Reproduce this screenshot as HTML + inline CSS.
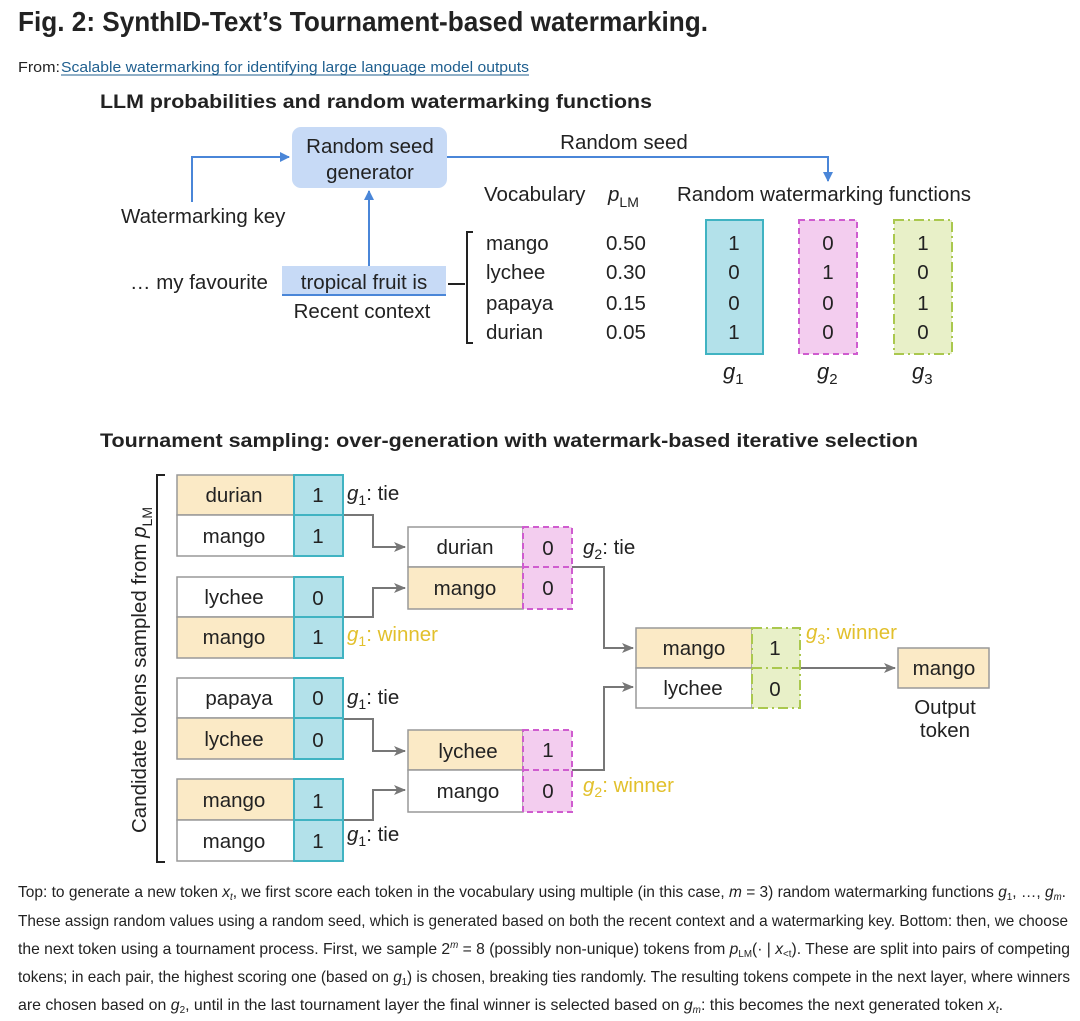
<!DOCTYPE html>
<html><head><meta charset="utf-8"><style>
html,body{margin:0;padding:0;background:#fff}
svg{display:block}
text{font-family:"Liberation Sans",sans-serif;fill:#222}
.s{font-size:20.5px}
.y{fill:#e2c02c}
.c{font-family:"Liberation Sans",sans-serif;font-size:16px;fill:#222}
</style></head><body>
<svg width="1080" height="1021" viewBox="0 0 1080 1021" xmlns="http://www.w3.org/2000/svg">
<defs>
<marker id="ab" markerWidth="10" markerHeight="10" refX="9" refY="5" orient="auto" markerUnits="userSpaceOnUse"><path d="M0,0 L10,5 L0,10 Z" fill="#4a86d8"/></marker>
<marker id="ag" markerWidth="12" markerHeight="10" refX="11" refY="5" orient="auto" markerUnits="userSpaceOnUse"><path d="M0,0 L12,5 L0,10 L3,5 Z" fill="#777"/></marker>
</defs>
<!-- Header -->
<text x="18" y="31" font-size="28" font-weight="bold" textLength="690" lengthAdjust="spacingAndGlyphs" style="font-family:'Liberation Sans',sans-serif">Fig. 2: SynthID-Text’s Tournament-based watermarking.</text>
<text x="18" y="72" font-size="15" textLength="42" lengthAdjust="spacingAndGlyphs">From:</text>
<text x="61" y="72" font-size="15" textLength="468" lengthAdjust="spacingAndGlyphs" style="fill:#1f5f8f">Scalable watermarking for identifying large language model outputs</text>
<line x1="61" y1="75" x2="529" y2="75" stroke="#1f5f8f" stroke-width="1"/>
<text x="100" y="108" font-size="19" font-weight="bold" textLength="552" lengthAdjust="spacingAndGlyphs">LLM probabilities and random watermarking functions</text>

<!-- Top diagram -->
<rect x="292" y="127" width="155" height="61" rx="9" fill="#c7daf6"/>
<text class="s" x="370" y="153" text-anchor="middle">Random seed</text>
<text class="s" x="370" y="179" text-anchor="middle">generator</text>
<path d="M192,202 V157 H289" fill="none" stroke="#4a86d8" stroke-width="2" marker-end="url(#ab)"/>
<path d="M447,157 H828 V181" fill="none" stroke="#4a86d8" stroke-width="2" marker-end="url(#ab)"/>
<text class="s" x="624" y="149" text-anchor="middle">Random seed</text>
<text class="s" x="121" y="223">Watermarking key</text>
<path d="M369,267 V191" fill="none" stroke="#4a86d8" stroke-width="2" marker-end="url(#ab)"/>
<text class="s" x="130" y="289">… my favourite</text>
<rect x="282" y="266" width="164" height="29" fill="#c7daf6"/>
<line x1="282" y1="295" x2="446" y2="295" stroke="#4a86d8" stroke-width="2"/>
<text class="s" x="364" y="289" text-anchor="middle">tropical fruit is</text>
<text class="s" x="362" y="318" text-anchor="middle">Recent context</text>
<line x1="448" y1="284" x2="465" y2="284" stroke="#222" stroke-width="2"/>
<path d="M473,232 H467 V343 H473" fill="none" stroke="#222" stroke-width="2"/>
<text class="s" x="484" y="201">Vocabulary</text>
<text class="s" x="608" y="201" font-style="italic">p<tspan font-size="14" dy="6" font-style="normal">LM</tspan></text>
<text class="s" x="677" y="201">Random watermarking functions</text>
<text class="s" x="486" y="250">mango</text><text class="s" x="606" y="250">0.50</text>
<text class="s" x="486" y="279">lychee</text><text class="s" x="606" y="279">0.30</text>
<text class="s" x="486" y="310">papaya</text><text class="s" x="606" y="310">0.15</text>
<text class="s" x="486" y="339">durian</text><text class="s" x="606" y="339">0.05</text>
<rect x="706" y="220" width="57" height="134" fill="#b3e1ea" stroke="#40b3c2" stroke-width="2"/>
<rect x="799" y="220" width="58" height="134" fill="#f3cdef" stroke="#cf5ccf" stroke-width="2" stroke-dasharray="6,4"/>
<rect x="894" y="220" width="58" height="134" fill="#e8f0c8" stroke="#aac84e" stroke-width="2" stroke-dasharray="10,4,2,4"/>
<text class="s" x="734" y="250" text-anchor="middle">1</text><text class="s" x="734" y="279" text-anchor="middle">0</text><text class="s" x="734" y="310" text-anchor="middle">0</text><text class="s" x="734" y="339" text-anchor="middle">1</text>
<text class="s" x="828" y="250" text-anchor="middle">0</text><text class="s" x="828" y="279" text-anchor="middle">1</text><text class="s" x="828" y="310" text-anchor="middle">0</text><text class="s" x="828" y="339" text-anchor="middle">0</text>
<text class="s" x="923" y="250" text-anchor="middle">1</text><text class="s" x="923" y="279" text-anchor="middle">0</text><text class="s" x="923" y="310" text-anchor="middle">1</text><text class="s" x="923" y="339" text-anchor="middle">0</text>
<text x="723" y="379" font-size="22" font-style="italic">g<tspan font-size="15" dy="5" font-style="normal">1</tspan></text>
<text x="817" y="379" font-size="22" font-style="italic">g<tspan font-size="15" dy="5" font-style="normal">2</tspan></text>
<text x="912" y="379" font-size="22" font-style="italic">g<tspan font-size="15" dy="5" font-style="normal">3</tspan></text>

<text x="100" y="447" font-size="19" font-weight="bold" textLength="818" lengthAdjust="spacingAndGlyphs">Tournament sampling: over-generation with watermark-based iterative selection</text>

<!-- bracket & rotated label -->
<path d="M165,475 H157 V862 H165" fill="none" stroke="#222" stroke-width="2"/>
<text class="s" transform="translate(146,670) rotate(-90)" text-anchor="middle">Candidate tokens sampled from <tspan font-style="italic">p</tspan><tspan font-size="14" dy="6">LM</tspan></text>

<!-- connectors -->
<g fill="none" stroke="#777" stroke-width="2">
<path d="M343,515 H373 V547 H405" marker-end="url(#ag)"/>
<path d="M343,617 H373 V588 H405" marker-end="url(#ag)"/>
<path d="M343,719 H373 V751 H405" marker-end="url(#ag)"/>
<path d="M343,820 H373 V790 H405" marker-end="url(#ag)"/>
<path d="M572,567 H604 V648 H633" marker-end="url(#ag)"/>
<path d="M572,770 H604 V687 H633" marker-end="url(#ag)"/>
<path d="M800,668 H895" marker-end="url(#ag)"/>
</g>

<!-- level 1 boxes -->
<g stroke="#999" stroke-width="1.5">
<rect x="177" y="475" width="117" height="40" fill="#fbeac6"/><rect x="177" y="515" width="117" height="41" fill="#fff"/>
<rect x="177" y="577" width="117" height="40" fill="#fff"/><rect x="177" y="617" width="117" height="41" fill="#fbeac6"/>
<rect x="177" y="678" width="117" height="40" fill="#fff"/><rect x="177" y="718" width="117" height="41" fill="#fbeac6"/>
<rect x="177" y="779" width="117" height="41" fill="#fbeac6"/><rect x="177" y="820" width="117" height="41" fill="#fff"/>
</g>
<g stroke="#40b3c2" stroke-width="2" fill="#b3e1ea">
<rect x="294" y="475" width="49" height="81"/><line x1="294" y1="515" x2="343" y2="515"/>
<rect x="294" y="577" width="49" height="81"/><line x1="294" y1="617" x2="343" y2="617"/>
<rect x="294" y="678" width="49" height="81"/><line x1="294" y1="718" x2="343" y2="718"/>
<rect x="294" y="779" width="49" height="82"/><line x1="294" y1="820" x2="343" y2="820"/>
</g>
<text class="s" x="234" y="502" text-anchor="middle">durian</text><text class="s" x="318" y="502" text-anchor="middle">1</text>
<text class="s" x="234" y="543" text-anchor="middle">mango</text><text class="s" x="318" y="543" text-anchor="middle">1</text>
<text class="s" x="234" y="604" text-anchor="middle">lychee</text><text class="s" x="318" y="605" text-anchor="middle">0</text>
<text class="s" x="234" y="644" text-anchor="middle">mango</text><text class="s" x="318" y="644" text-anchor="middle">1</text>
<text class="s" x="239" y="705" text-anchor="middle">papaya</text><text class="s" x="318" y="705" text-anchor="middle">0</text>
<text class="s" x="234" y="746" text-anchor="middle">lychee</text><text class="s" x="318" y="747" text-anchor="middle">0</text>
<text class="s" x="234" y="807" text-anchor="middle">mango</text><text class="s" x="318" y="808" text-anchor="middle">1</text>
<text class="s" x="234" y="848" text-anchor="middle">mango</text><text class="s" x="318" y="848" text-anchor="middle">1</text>
<text class="s" x="347" y="500" font-style="italic">g<tspan font-size="14" dy="5" font-style="normal">1</tspan><tspan dy="-5" font-style="normal">: tie</tspan></text>
<text class="s y" x="347" y="641" font-style="italic">g<tspan font-size="14" dy="5" font-style="normal">1</tspan><tspan dy="-5" font-style="normal">: winner</tspan></text>
<text class="s" x="347" y="704" font-style="italic">g<tspan font-size="14" dy="5" font-style="normal">1</tspan><tspan dy="-5" font-style="normal">: tie</tspan></text>
<text class="s" x="347" y="841" font-style="italic">g<tspan font-size="14" dy="5" font-style="normal">1</tspan><tspan dy="-5" font-style="normal">: tie</tspan></text>

<!-- level 2 -->
<g stroke="#999" stroke-width="1.5">
<rect x="408" y="527" width="115" height="40" fill="#fff"/><rect x="408" y="567" width="115" height="42" fill="#fbeac6"/>
<rect x="408" y="730" width="115" height="40" fill="#fbeac6"/><rect x="408" y="770" width="115" height="42" fill="#fff"/>
</g>
<g stroke="#cf5ccf" stroke-width="2" fill="#f3cdef" stroke-dasharray="6,4">
<rect x="523" y="527" width="49" height="82"/><line x1="523" y1="567" x2="572" y2="567"/>
<rect x="523" y="730" width="49" height="82"/><line x1="523" y1="770" x2="572" y2="770"/>
</g>
<text class="s" x="465" y="554" text-anchor="middle">durian</text><text class="s" x="548" y="555" text-anchor="middle">0</text>
<text class="s" x="465" y="595" text-anchor="middle">mango</text><text class="s" x="548" y="595" text-anchor="middle">0</text>
<text class="s" x="468" y="758" text-anchor="middle">lychee</text><text class="s" x="548" y="757" text-anchor="middle">1</text>
<text class="s" x="468" y="798" text-anchor="middle">mango</text><text class="s" x="548" y="798" text-anchor="middle">0</text>
<text class="s" x="583" y="554" font-style="italic">g<tspan font-size="14" dy="5" font-style="normal">2</tspan><tspan dy="-5" font-style="normal">: tie</tspan></text>
<text class="s y" x="583" y="792" font-style="italic">g<tspan font-size="14" dy="5" font-style="normal">2</tspan><tspan dy="-5" font-style="normal">: winner</tspan></text>

<!-- level 3 -->
<g stroke="#999" stroke-width="1.5">
<rect x="636" y="628" width="116" height="40" fill="#fbeac6"/><rect x="636" y="668" width="116" height="40" fill="#fff"/>
</g>
<g stroke="#aac84e" stroke-width="2" fill="#e8f0c8" stroke-dasharray="10,4,2,4">
<rect x="752" y="628" width="48" height="80"/><line x1="752" y1="668" x2="800" y2="668"/>
</g>
<text class="s" x="694" y="655" text-anchor="middle">mango</text><text class="s" x="775" y="655" text-anchor="middle">1</text>
<text class="s" x="693" y="695" text-anchor="middle">lychee</text><text class="s" x="775" y="696" text-anchor="middle">0</text>
<text class="s y" x="806" y="639" font-style="italic">g<tspan font-size="14" dy="5" font-style="normal">3</tspan><tspan dy="-5" font-style="normal">: winner</tspan></text>

<rect x="898" y="648" width="91" height="40" fill="#fbeac6" stroke="#999" stroke-width="1.5"/>
<text class="s" x="944" y="675" text-anchor="middle">mango</text>
<text class="s" x="945" y="714" text-anchor="middle">Output</text>
<text class="s" x="945" y="737" text-anchor="middle">token</text>

<!-- caption -->
<text class="c" x="18" y="897" textLength="1048" lengthAdjust="spacingAndGlyphs">Top: to generate a new token <tspan font-style="italic">x</tspan><tspan font-size="10" dy="3" font-style="italic">t</tspan><tspan dy="-3">, we first score each token in the vocabulary using multiple (in this case, </tspan><tspan font-style="italic">m</tspan> = 3) random watermarking functions <tspan font-style="italic">g</tspan><tspan font-size="10" dy="3">1</tspan><tspan dy="-3">, …, </tspan><tspan font-style="italic">g</tspan><tspan font-size="10" dy="3" font-style="italic">m</tspan><tspan dy="-3">.</tspan></text>
<text class="c" x="18" y="926" textLength="1050" lengthAdjust="spacingAndGlyphs">These assign random values using a random seed, which is generated based on both the recent context and a watermarking key. Bottom: then, we choose</text>
<text class="c" x="18" y="954" textLength="1052" lengthAdjust="spacingAndGlyphs">the next token using a tournament process. First, we sample 2<tspan font-size="10" dy="-6" font-style="italic">m</tspan><tspan dy="6"> = 8 (possibly non-unique) tokens from </tspan><tspan font-style="italic">p</tspan><tspan font-size="10" dy="3">LM</tspan><tspan dy="-3">(·    | </tspan><tspan font-style="italic">x</tspan><tspan font-size="10" dy="3">&lt;t</tspan><tspan dy="-3">). These are split into pairs of competing</tspan></text>
<text class="c" x="18" y="982" textLength="1052" lengthAdjust="spacingAndGlyphs">tokens; in each pair, the highest scoring one (based on <tspan font-style="italic">g</tspan><tspan font-size="10" dy="3">1</tspan><tspan dy="-3">) is chosen, breaking ties randomly. The resulting tokens compete in the next layer, where winners</tspan></text>
<text class="c" x="18" y="1010" textLength="985" lengthAdjust="spacingAndGlyphs">are chosen based on <tspan font-style="italic">g</tspan><tspan font-size="10" dy="3">2</tspan><tspan dy="-3">, until in the last tournament layer the final winner is selected based on </tspan><tspan font-style="italic">g</tspan><tspan font-size="10" dy="3" font-style="italic">m</tspan><tspan dy="-3">: this becomes the next generated token </tspan><tspan font-style="italic">x</tspan><tspan font-size="10" dy="3" font-style="italic">t</tspan><tspan dy="-3">.</tspan></text>
</svg>
</body></html>
